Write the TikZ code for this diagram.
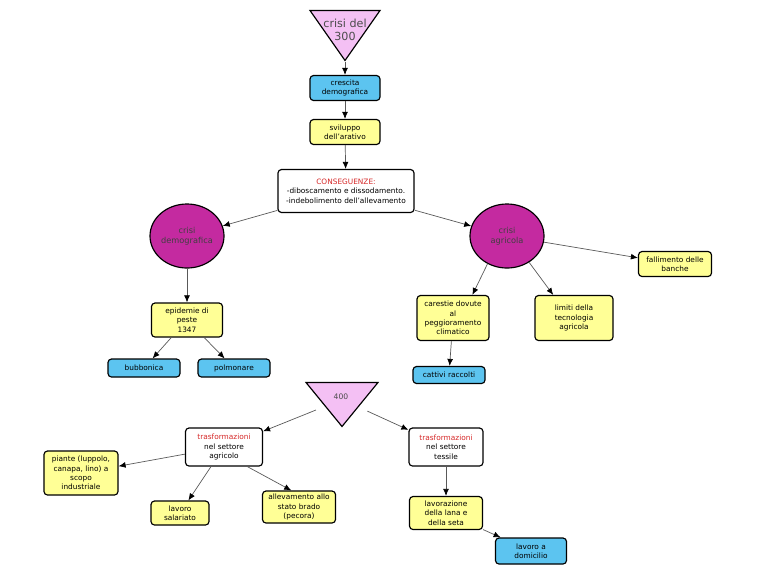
\documentclass[tikz,border=0pt]{standalone}
\usepackage{fontspec}
\setmainfont{DejaVu Sans}
\usetikzlibrary{shapes.geometric,arrows.meta}
\definecolor{boxblue}{RGB}{92,196,240}
\definecolor{boxyellow}{RGB}{255,255,150}
\definecolor{crisismag}{RGB}{196,42,160}
\definecolor{erapink}{RGB}{244,192,244}
\definecolor{titlered}{RGB}{214,40,40}

\begin{document}
\begin{tikzpicture}[x=0.03cm,y=-0.03cm,
            box/.style={draw,rounded corners=3pt,line width=1pt,align=center,inner sep=1pt,
              font=\fontsize{6.3}{8}\selectfont},
            blue box/.style={box,fill=boxblue},
            yellow box/.style={box,fill=boxyellow},
            white box/.style={box,fill=white},
            crisis node/.style={ellipse,draw,line width=1pt,fill=crisismag,inner sep=0pt,
              minimum width=2.22cm,minimum height=1.92cm,align=center,
              text=black!75,font=\fontsize{7}{9}\selectfont},
            era node/.style={isosceles triangle,shape border rotate=270,isosceles triangle stretches,
              draw,line width=1pt,fill=erapink,inner sep=0pt},
            era text/.style={align=center,text=black!70},
            link/.style={draw=black!65,line width=0.6pt,-{Latex[length=6pt,width=5pt,color=black]}},
            ]
            \useasboundingbox (0,0) rectangle (768,575);

            \node[era node, minimum width=2.1cm, minimum height=1.5cm, anchor=apex] (crisi300) at (345,62) {};
            \node[era text, font=\fontsize{9.5}{11.5}\selectfont] (crisi300 text) at (345,30) {crisi del\\300};
            \node[blue box, minimum width=2.1cm, minimum height=0.75cm] (crescita) at (345,88) {crescita\\demografica};
            \node[yellow box, minimum width=2.1cm, minimum height=0.75cm] (sviluppo) at (345,132) {sviluppo\\dell'arativo};
            \node[white box, minimum width=4.08cm, minimum height=1.29cm] (conseguenze) at (346,191)
              {\textcolor{titlered}{CONSEGUENZE:}\\-diboscamento e dissodamento.\\-indebolimento dell'allevamento};

            \node[crisis node] (demografica) at (187,236) {crisi\\demografica};
            \node[crisis node] (agricola) at (507,236) {crisi\\agricola};

            \node[yellow box, minimum width=2.13cm, minimum height=1.02cm] (epidemie) at (187,320) {epidemie di\\peste\\1347};
            \node[blue box, minimum width=2.16cm, minimum height=0.54cm] (bubbonica) at (144,368) {bubbonica};
            \node[blue box, minimum width=2.16cm, minimum height=0.54cm] (polmonare) at (234,368) {polmonare};

            \node[yellow box, minimum width=2.16cm, minimum height=1.35cm] (carestie) at (453,318) {carestie dovute\\al\\peggioramento\\climatico};
            \node[yellow box, minimum width=2.34cm, minimum height=1.35cm] (limiti) at (574,318) {limiti della\\tecnologia\\agricola};
            \node[yellow box, minimum width=2.19cm, minimum height=0.75cm] (fallimento) at (675,264) {fallimento delle\\banche};
            \node[blue box, minimum width=2.16cm, minimum height=0.51cm] (raccolti) at (449,375) {cattivi raccolti};

            \node[era node, minimum width=2.16cm, minimum height=1.32cm, anchor=apex] (era400) at (342,428) {};
            \node[era text, font=\fontsize{6.5}{8}\selectfont] (era400 text) at (341,397) {400};

            \node[white box, minimum width=2.31cm, minimum height=1.14cm] (agricolo) at (224,447)
              {\textcolor{titlered}{trasformazioni}\\nel settore\\agricolo};
            \node[white box, minimum width=2.22cm, minimum height=1.14cm] (tessile) at (446,447)
              {\textcolor{titlered}{trasformazioni}\\nel settore\\tessile};

            \node[yellow box, minimum width=2.22cm, minimum height=1.32cm] (piante) at (81,473) {piante (luppolo,\\canapa, lino) a\\scopo\\industriale};
            \node[yellow box, minimum width=1.74cm, minimum height=0.72cm] (salariato) at (180,513) {lavoro\\salariato};
            \node[yellow box, minimum width=2.19cm, minimum height=0.96cm] (allevamento) at (299,507) {allevamento allo\\stato brado\\(pecora)};
            \node[yellow box, minimum width=2.19cm, minimum height=0.99cm] (lavorazione) at (446,513) {lavorazione\\della lana e\\della seta};
            \node[blue box, minimum width=2.13cm, minimum height=0.78cm] (domicilio) at (531,551) {lavoro a\\domicilio};

            \draw[link] (crisi300) -- (crescita);
            \draw[link] (crescita) -- (sviluppo);
            \draw[link] (sviluppo) -- (conseguenze);
            \draw[link] (conseguenze) -- (demografica);
            \draw[link] (conseguenze) -- (agricola);
            \draw[link] (demografica) -- (epidemie);
            \draw[link] (epidemie) -- (bubbonica);
            \draw[link] (epidemie) -- (polmonare);
            \draw[link] (agricola.235) -- (carestie.50);
            \draw[link] (agricola.310) -- (limiti.132);
            \draw[link] (agricola) -- (fallimento);
            \draw[link] (carestie) -- (raccolti);
            \draw[link,shorten <=8pt] (era400) -- (agricolo);
            \draw[link,shorten <=8pt] (era400) -- (tessile);
            \draw[link] (agricolo) -- (piante);
            \draw[link] (agricolo) -- (salariato);
            \draw[link] (agricolo.-40) -- (allevamento.115);
            \draw[link] (tessile) -- (lavorazione);
            \draw[link] (lavorazione) -- (domicilio);
        \end{tikzpicture}
\end{document}
